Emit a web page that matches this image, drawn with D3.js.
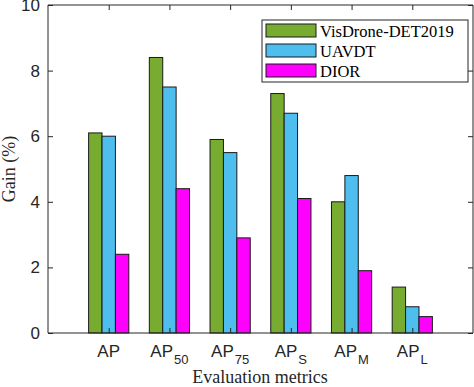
<!DOCTYPE html>
<html><head><meta charset="utf-8">
<script src="https://cdn.jsdelivr.net/npm/d3@7"></script>
<style>body{margin:0;background:#fff}</style>
</head><body>
<svg id="c" width="474" height="387"></svg>
<script>
const categories = ["AP","AP50","AP75","APS","APM","APL"];
const catMain = ["AP","AP","AP","AP","AP","AP"];
const catSub = ["","50","75","S","M","L"];
const seriesNames = ["VisDrone-DET2019","UAVDT","DIOR"];
const visdrone = [6.1, 8.4, 5.9, 7.3, 4.0, 1.4];
const uavdt = [6.0, 7.5, 5.5, 6.7, 4.8, 0.8];
const dior = [2.4, 4.4, 2.9, 4.1, 1.9, 0.5];
const yTicks = [0,2,4,6,8,10];
const colors = ["#77AC30","#4DBEEE","#FF00FF"];
const series = [visdrone, uavdt, dior];

const svg = d3.select("#c");
const L=48, R=473, T=5, B=333;
const x = d3.scaleLinear().domain([0,7]).range([L,R]);
const y = d3.scaleLinear().domain([0,10]).range([B,T]);
const bw = 13.4;
const axCol = "#262626";

// bars
series.forEach((s,si)=>{
  svg.append("g").selectAll("rect").data(s).join("rect")
    .attr("x",(d,i)=>x(i+1)+(si-1.5)*bw)
    .attr("y",d=>y(d)).attr("width",bw).attr("height",d=>B-y(d))
    .attr("fill",colors[si]).attr("stroke","#1a1a1a").attr("stroke-width",1);
});

// axes
const gl = svg.append("g").attr("transform",`translate(${L},0)`)
  .call(d3.axisLeft(y).tickValues(yTicks).tickSize(-5).tickPadding(8).tickFormat(d3.format("d")));
const gr = svg.append("g").attr("transform",`translate(${R},0)`)
  .call(d3.axisRight(y).tickValues(yTicks).tickSize(-5).tickFormat(""));
const gb = svg.append("g").attr("transform",`translate(0,${B})`)
  .call(d3.axisBottom(x).tickValues([1,2,3,4,5,6]).tickSize(-5).tickFormat(""));
const gt = svg.append("g").attr("transform",`translate(0,${T})`)
  .call(d3.axisTop(x).tickValues([1,2,3,4,5,6]).tickSize(-5).tickFormat(""));
[gl,gr,gb,gt].forEach(g=>{
  g.selectAll("path,line").attr("stroke",axCol).attr("stroke-width",1);
  g.select(".domain").attr("d", g===gl||g===gr ? `M0,${T}V${B}` : `M${L},0H${R}`);
});
gl.selectAll("text").attr("font-family","Liberation Sans, Arial, sans-serif").attr("font-size",17).attr("fill",axCol);

// x tick labels with subscripts
categories.forEach((c,i)=>{
  const t = svg.append("text").attr("x",x(i+1)).attr("y",357)
    .attr("font-family","Liberation Sans, Arial, sans-serif").attr("font-size",17).attr("fill",axCol)
    .attr("text-anchor","middle");
  t.append("tspan").text(catMain[i]);
  if(catSub[i]) t.append("tspan").attr("dy",7).attr("dx",1).attr("font-size",13).text(catSub[i]);
});

// axis labels
svg.append("text").attr("x",260).attr("y",383).attr("text-anchor","middle")
  .attr("font-family","Liberation Serif, Times New Roman, serif").attr("font-size",18).attr("fill",axCol)
  .text("Evaluation metrics");
svg.append("text").attr("transform",`translate(15,${(T+B)/2}) rotate(-90)`).attr("text-anchor","middle")
  .attr("font-family","Liberation Serif, Times New Roman, serif").attr("font-size",18).attr("fill",axCol)
  .text("Gain (%)");

// legend
const lg = svg.append("g");
lg.append("rect").attr("x",262).attr("y",20).attr("width",206).attr("height",62)
  .attr("fill","#fff").attr("stroke",axCol).attr("stroke-width",1);
seriesNames.forEach((n,i)=>{
  const yy = 24 + i*20;
  lg.append("rect").attr("x",266).attr("y",yy).attr("width",50).attr("height",13)
    .attr("fill",colors[i]).attr("stroke","#1a1a1a");
  lg.append("text").attr("x",320).attr("y",yy+12.5).text(n)
    .attr("font-family","Liberation Serif, Times New Roman, serif").attr("font-size",16.5).attr("fill","#000");
});
</script>
</body></html>
